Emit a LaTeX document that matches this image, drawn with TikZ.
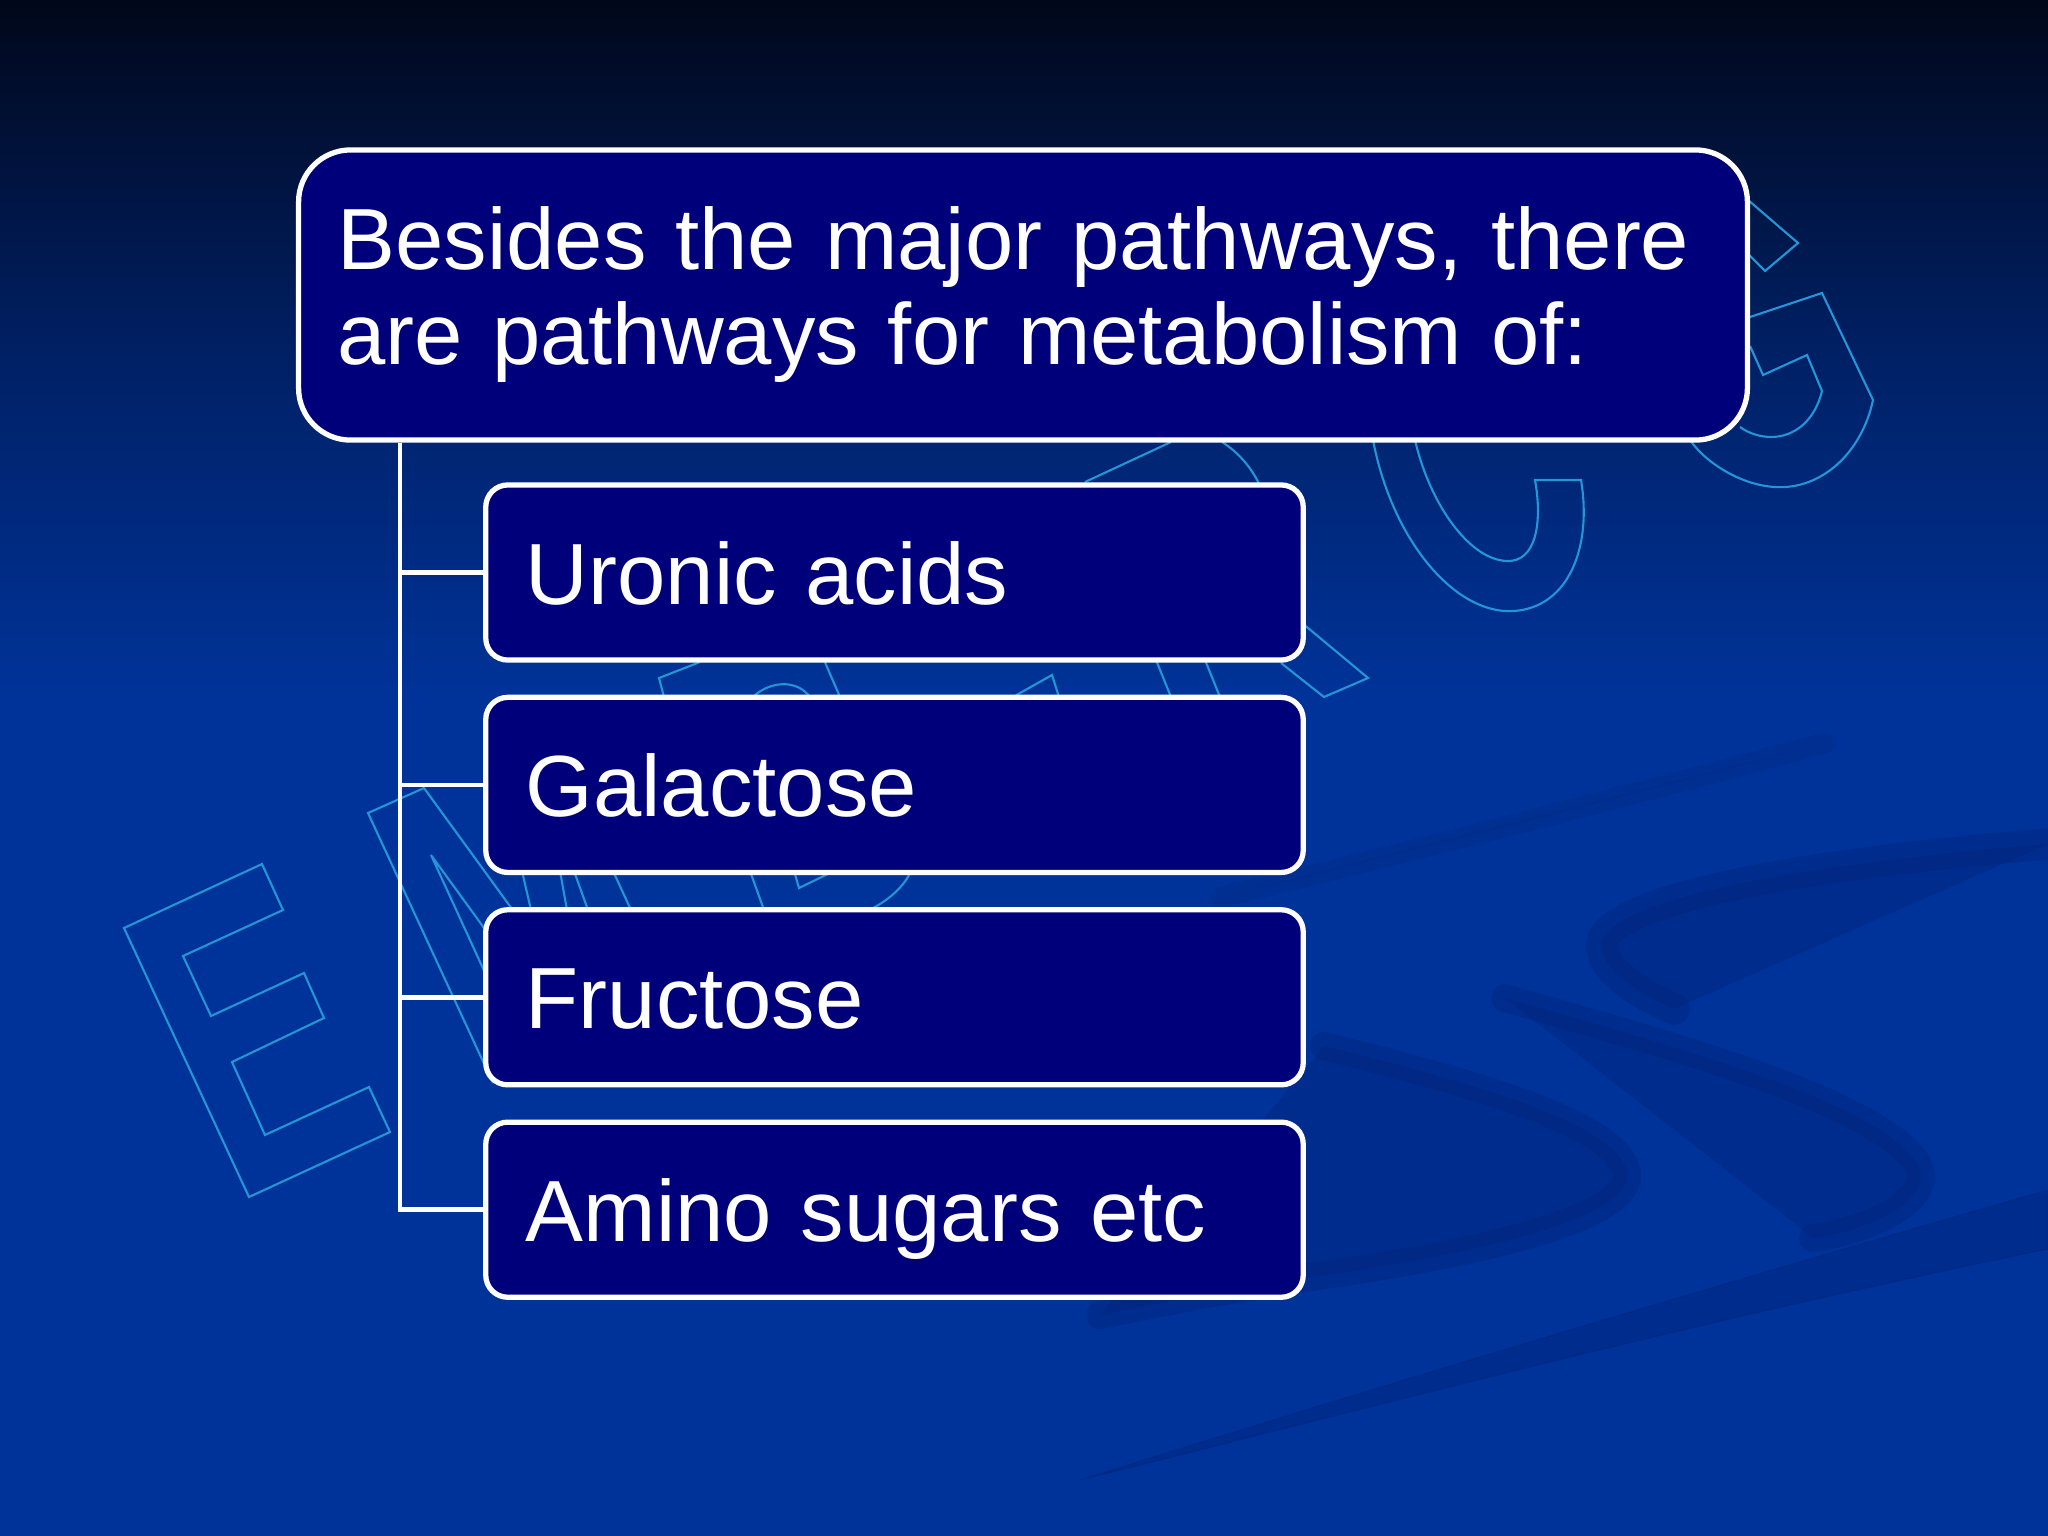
\documentclass[tikz,border=0pt]{standalone}
\usepackage{fontspec}
\setmainfont{Liberation Sans}
\usetikzlibrary{positioning}
\definecolor{slidetop}{RGB}{1,7,26}
\definecolor{slidemid}{RGB}{0,32,100}
\definecolor{slideblue}{RGB}{0,51,153}
\definecolor{boxnavy}{RGB}{0,0,122}
\definecolor{markcyan}{RGB}{35,150,215}
\definecolor{swooshblue}{RGB}{0,30,110}

\begin{document}
\begin{tikzpicture}[x=0.01cm,y=-0.01cm,
    headbox/.style={draw=white,line width=1.5pt,fill=boxnavy,rounded corners=0.52cm,text=white,
      font=\fontsize{24.7}{27}\selectfont,align=left,text width=13.7cm,inner xsep=0.39cm,minimum height=2.9cm},
    itembox/.style={draw=white,line width=1.5pt,fill=boxnavy,rounded corners=0.22cm,text=white,
      font=\fontsize{24.7}{27}\selectfont,align=left,text width=7.37cm,inner xsep=0.4cm,minimum height=1.75cm,
      text height=18pt,text depth=0pt},
    link/.style={draw=white,line width=1.3pt},
    wmline/.style={draw=markcyan,line width=0.6pt},
    swoosh/.style={draw=swooshblue,fill=swooshblue,opacity=#1,line cap=round},
    swoosh/.default=0.28]
  \useasboundingbox (0,0) rectangle (2048,1536);
  \shade[top color=slidetop,bottom color=slideblue,middle color=slidemid] (0,0) rectangle (2048,700);
  \fill[slideblue] (0,699) rectangle (2048,1536);

  \draw[swoosh=0.16,line width=6pt] (1221,897) .. controls (1420,850) and (1650,790) .. (1825,743);
  \draw[swoosh,line width=9pt] (2048,844) .. controls (1850,860) and (1640,890) .. (1605,935) .. controls (1590,960) and (1630,990) .. (1674,1009);
  \draw[swoosh,line width=8pt] (1505,998) .. controls (1650,1040) and (1880,1100) .. (1918,1165) .. controls (1935,1200) and (1870,1230) .. (1813,1238);
  \draw[swoosh,line width=8pt] (1324,1046) .. controls (1460,1080) and (1610,1120) .. (1626,1169) .. controls (1640,1210) and (1520,1250) .. (1281,1281) .. controls (1200,1295) .. (1100,1315);
  \fill[swoosh] (2048,1190) .. controls (1700,1290) and (1400,1380) .. (1080,1480) .. controls (1400,1400) and (1700,1320) .. (2048,1249) -- cycle;

  \draw[wmline] (124,928) -- (262,864) -- (283,910) -- (183,956) -- (211,1016) -- (304,973) -- (324,1018) -- (232,1062) -- (265,1135) -- (369,1087) -- (390,1132) -- (249,1197) -- cycle;
  \draw[wmline] (493,1083) -- (368,813) -- (424,788) -- (600,1030);
  \draw[wmline] (525,1060) -- (431,855) -- (580,1060);
  \draw[wmline] (1085,482) -- (1171,442);
  \draw[wmline] (1222,442) .. controls (1238,452) and (1252,468) .. (1260,486);
  \draw[wmline] (664,697) -- (659,678) -- (700,662);
  \draw[wmline] (753,697) .. controls (768,682) and (796,678) .. (810,697);
  \draw[wmline] (824,660) -- (840,697);
  \draw[wmline] (1013,697) -- (1052,675) -- (1059,697);
  \draw[wmline] (1156,660) -- (1171,697);
  \draw[wmline] (1205,660) -- (1220,697);
  \draw[wmline] (1296,618) -- (1368,678) -- (1324,697) -- (1281,663);
  \draw[wmline] (522,871) -- (531,910);
  \draw[wmline] (560,871) -- (567,910);
  \draw[wmline] (574,871) -- (588,910);
  \draw[wmline] (613,871) -- (631,910);
  \draw[wmline] (750,871) -- (764,910);
  \draw[wmline] (794,871) -- (799,888) -- (834,871);
  \draw[wmline] (911,871) .. controls (905,885) and (890,900) .. (869,910);
  \draw[wmline] (1373,440) .. controls (1392,540) and (1455,615) .. (1514,611) .. controls (1570,607) and (1592,545) .. (1581,480) -- (1535,480) .. controls (1543,525) and (1535,562) .. (1507,561) .. controls (1470,560) and (1430,505) .. (1415,440);
  \draw[wmline] (1747,318) -- (1822,293) -- (1873,400) .. controls (1862,452) and (1822,490) .. (1775,487) .. controls (1740,485) and (1705,462) .. (1690,440);
  \draw[wmline] (1750,346) -- (1763,375) -- (1807,355) -- (1822,391) .. controls (1815,420) and (1795,437) .. (1771,437) .. controls (1760,437) and (1748,433) .. (1740,427);
  \draw[wmline] (1748,200) -- (1798,243) -- (1765,271) -- (1748,254);

  \node[headbox] (main) at (1023,295) {Besides the major pathways, there\\are pathways for metabolism of:};
  \node[itembox] (uronic) at (894.5,572.5) {Uronic acids};
  \node[itembox,below=0.32cm of uronic] (galactose) {Galactose};
  \node[itembox,below=0.32cm of galactose] (fructose) {Fructose};
  \node[itembox,below=0.32cm of fructose] (amino) {Amino sugars etc};

  \coordinate (trunk) at ([xshift=1.04cm]main.south west);
  \draw[link] (trunk) |- (amino.west);
  \draw[link] (uronic.west) -- (uronic.west -| trunk);
  \draw[link] (galactose.west) -- (galactose.west -| trunk);
  \draw[link] (fructose.west) -- (fructose.west -| trunk);
\end{tikzpicture}
\end{document}
